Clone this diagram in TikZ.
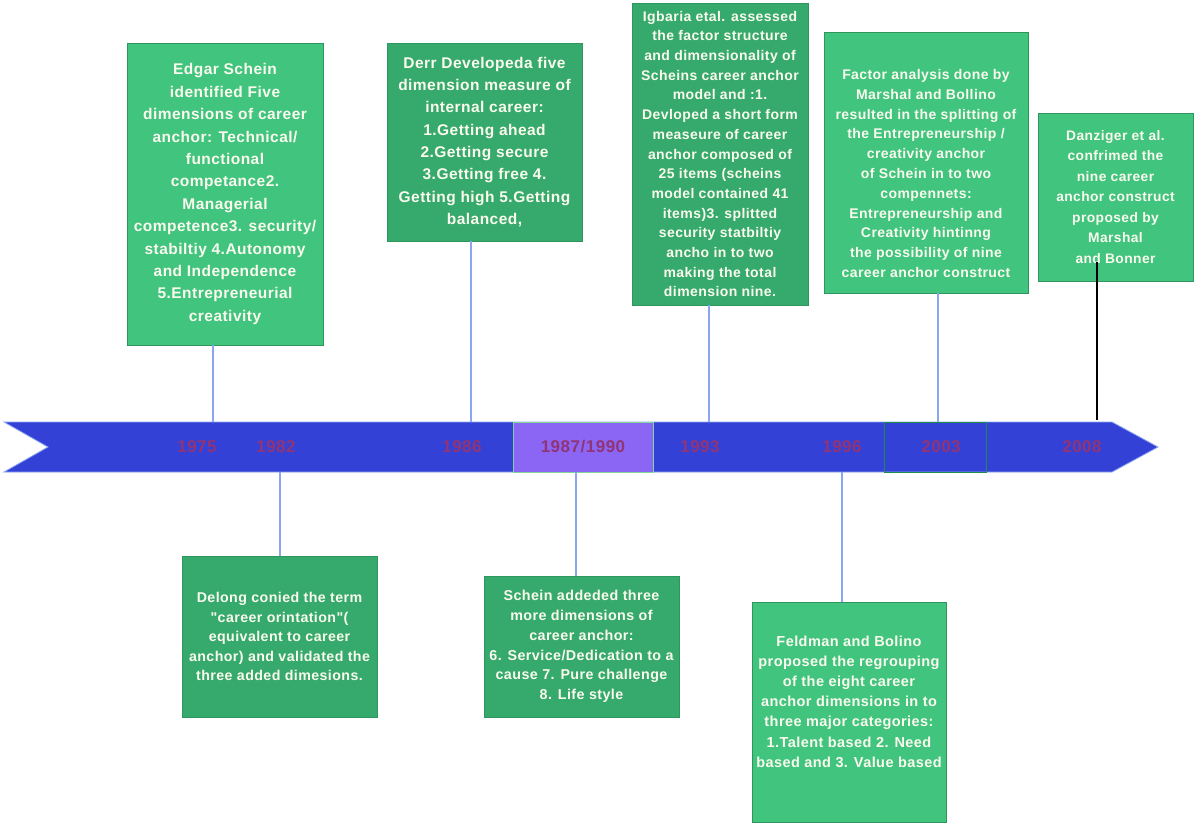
\documentclass[tikz,border=0pt]{standalone}
\usepackage{fontspec}
\setmainfont{Liberation Sans}[LetterSpace=3, Ligatures=TeXOff]
\usetikzlibrary{positioning}

\definecolor{lightgreen}{RGB}{64,196,126}
\definecolor{darkgreen}{RGB}{54,170,108}
\definecolor{boxedge}{RGB}{46,150,92}
\definecolor{bandblue}{RGB}{52,65,214}
\definecolor{bandpurple}{RGB}{139,102,245}
\definecolor{yearred}{RGB}{145,52,118}
\definecolor{linkblue}{RGB}{140,165,240}
\definecolor{boxtext}{RGB}{250,250,238}

\tikzset{
  event/.style={draw=boxedge, line width=0.8pt, text=boxtext, align=center, inner sep=0pt},
  evfont/.style 2 args={font=\bfseries\fontsize{#1}{#2}\selectfont},
  year/.style={text=yearred, font=\bfseries\fontsize{17}{17}\selectfont},
  link/.style={draw=linkblue, line width=1.3pt},
}

\begin{document}
\begin{tikzpicture}[x=1pt,y=-1pt]
\fill[white] (0,0) rectangle (1200,828);
\useasboundingbox (0,0) rectangle (1200,828);

% the time band
\filldraw[fill=bandblue, draw=linkblue, line width=0.8pt] (4,422) -- (1112,422) -- (1158,447) -- (1112,472) -- (4,472) -- (48,447) -- cycle;
\node[year, fill=bandpurple, draw={rgb,255:red,130;green,214;blue,150}, line width=0.8pt, minimum width=140pt, minimum height=50pt] (y8790) at (583,447) {1987/1990};
\node[year, draw={rgb,255:red,30;green,140;blue,74}, line width=1pt, minimum width=102pt, minimum height=50pt] (y2003) at (935,447) {\hspace{12pt}2003};
\node[year] (y1975) at (197,447) {1975};
\node[year] (y1982) at (276,447) {1982};
\node[year] (y1986) at (462,447) {1986};
\node[year] (y1993) at (700,447) {1993};
\node[year] (y1996) at (842,447) {1996};
\node[year] (y2008) at (1082,447) {2008};

% boxes above
\node[event, fill=lightgreen, evfont={15.5}{22.4}, minimum width=196pt, minimum height=302pt] (schein75) at (225,194)
  {Edgar Schein\\identified Five\\dimensions of career\\anchor: Technical/\\functional\\competance2.\\Managerial\\competence3. security/\\stabiltiy 4.Autonomy\\and Independence\\5.Entrepreneurial\\creativity};
\node[event, fill=darkgreen, evfont={15.5}{22.3}, minimum width=195pt, minimum height=198pt] (derr) at (484.5,142)
  {Derr Developeda five\\dimension measure of\\internal career:\\1.Getting ahead\\2.Getting secure\\3.Getting free 4.\\Getting high 5.Getting\\balanced,};
\node[event, fill=darkgreen, evfont={14}{19.7}, minimum width=176pt, minimum height=302pt] (igbaria) at (720,154)
  {Igbaria etal. assessed\\the factor structure\\and dimensionality of\\Scheins career anchor\\model and :1.\\Devloped a short form\\measeure of career\\anchor composed of\\25 items (scheins\\model contained 41\\items)3. splitted\\security statbiltiy\\ancho in to two\\making the total\\dimension nine.};
\node[event, fill=lightgreen, evfont={14}{19.8}, minimum width=204pt, minimum height=261pt] (marshal) at (926,162.5)
  {\rule{0pt}{32pt}Factor analysis done by\\Marshal and Bollino\\resulted in the splitting of\\the Entrepreneurship /\\creativity anchor\\of Schein in to two\\compennets:\\Entrepreneurship and\\Creativity hintinng\\the possibility of nine\\career anchor construct};
\node[event, fill=lightgreen, evfont={13.8}{20.5}, minimum width=155pt, minimum height=168pt] (danziger) at (1115.5,197)
  {Danziger et al.\\confrimed the\\nine career\\anchor construct\\proposed by\\Marshal\\and Bonner};

% boxes below
\node[event, fill=darkgreen, evfont={14.2}{19.5}, minimum width=195pt, minimum height=161pt] (delong) at (279.5,636.5)
  {Delong conied the term\\"career orintation"(\\equivalent to career\\anchor) and validated the\\three added dimesions.};
\node[event, fill=darkgreen, evfont={14.3}{19.8}, minimum width=195pt, minimum height=141pt] (schein90) at (581.5,646.5)
  {Schein addeded three\\more dimensions of\\career anchor:\\6. Service/Dedication to a\\cause 7. Pure challenge\\8. Life style};
\node[event, fill=lightgreen, evfont={14.5}{20.2}, minimum width=194pt, minimum height=220pt] (feldman) at (849,712)
  {Feldman and Bolino\\proposed the regrouping\\of the eight career\\anchor dimensions in to\\three major categories:\\1.Talent based 2. Need\\based and 3. Value based\rule[-21pt]{0pt}{21pt}};

% connectors
\coordinate (a1975) at (213,422);
\coordinate (a1986) at (471,422);
\coordinate (a1993) at (709,422);
\coordinate (a2003) at (938,422);
\coordinate (a2008) at (1097,420);
\coordinate (d2008) at (1097,262);
\coordinate (b1982) at (280,472);
\coordinate (b8790) at (576,472);
\coordinate (b1996) at (842,472);
\draw[link] (a1975) -- (a1975 |- schein75.south);
\draw[link] (a1986) -- (a1986 |- derr.south);
\draw[link] (a1993) -- (a1993 |- igbaria.south);
\draw[link] (a2003) -- (a2003 |- marshal.south);
\draw[black, line width=1.3pt] (a2008) -- (d2008);
\draw[link] (b1982) -- (b1982 |- delong.north);
\draw[link] (b8790) -- (b8790 |- schein90.north);
\draw[link] (b1996) -- (b1996 |- feldman.north);
\end{tikzpicture}
\end{document}
